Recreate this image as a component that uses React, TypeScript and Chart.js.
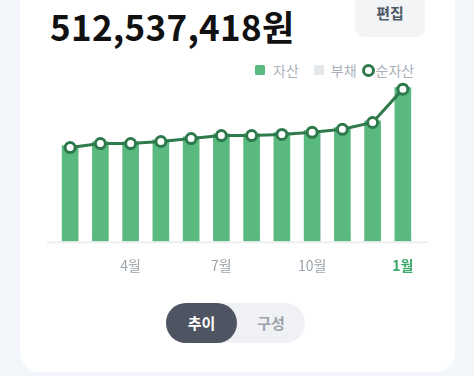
import React, { useEffect, useRef } from "react";
import { Chart, registerables } from "chart.js";

Chart.register(...registerables);

const months = ["2월", "3월", "4월", "5월", "6월", "7월", "8월", "9월", "10월", "11월", "12월", "1월"];
const shownTicks = ["4월", "7월", "10월", "1월"];
// 단위: 백만원
const assets = [322, 335, 335, 342, 352, 362, 362, 366, 373, 383, 406, 518];
const liabilities = [6, 6, 6, 6, 6, 6, 6, 6, 6, 6, 6, 6];
const netAssets = [315.6, 329, 329, 336, 346, 356, 356, 360, 367, 377, 400, 512.5];
const totalText = "512,537,418원";

const FONT = '"Noto Sans CJK KR", "Noto Sans", sans-serif';
const GREEN = "#5ab97e";
const DARK_GREEN = "#2e7a4d";
const LIGHT_GRAY = "#e5e8eb";

const baselinePlugin = {
  id: "baseline",
  beforeDatasetsDraw(chart: any) {
    const { ctx, chartArea } = chart;
    ctx.save();
    ctx.strokeStyle = "#eceef0";
    ctx.lineWidth = 2;
    ctx.beginPath();
    ctx.moveTo(chartArea.left - 8, chartArea.bottom + 1);
    ctx.lineTo(chartArea.right + 10, chartArea.bottom + 1);
    ctx.stroke();
    ctx.restore();
  },
};

function TrendChart() {
  const ref = useRef<HTMLCanvasElement | null>(null);
  useEffect(() => {
    if (!ref.current) return;
    const chart = new Chart(ref.current, {
      type: "bar",
      data: {
        labels: months,
        datasets: [
          {
            type: "line",
            label: "순자산",
            data: netAssets,
            borderColor: DARK_GREEN,
            borderWidth: 3,
            pointRadius: 5,
            pointBorderWidth: 3,
            pointBackgroundColor: "#ffffff",
            pointBorderColor: DARK_GREEN,
            tension: 0,
            order: 0,
          } as any,
          {
            type: "bar",
            label: "자산",
            data: assets,
            backgroundColor: GREEN,
            barThickness: 16,
            order: 1,
          },
          {
            type: "bar",
            label: "부채",
            data: liabilities,
            backgroundColor: LIGHT_GRAY,
            barThickness: 16,
            order: 2,
          },
        ],
      },
      options: {
        animation: false,
        responsive: true,
        maintainAspectRatio: false,
        layout: { padding: { left: 15, right: 22, top: 4, bottom: 6 } },
        plugins: { legend: { display: false }, tooltip: { enabled: false } },
        scales: {
          x: {
            stacked: true,
            grid: { display: false },
            border: { display: false },
            ticks: {
              autoSkip: false,
              maxRotation: 0,
              padding: 8,
              callback: (_v: any, i: number) => (shownTicks.includes(months[i]) ? months[i] : ""),
              color: (c: any) => (c.index === months.length - 1 ? "#3aa96a" : "#9ba3ab"),
              font: (c: any) => ({
                family: FONT,
                size: 14,
                weight: c.index === months.length - 1 ? "bold" : "normal",
              }),
            },
          },
          y: {
            display: false,
            stacked: false,
            min: 0,
            max: 550,
          },
        },
      },
      plugins: [baselinePlugin],
    });
    return () => chart.destroy();
  }, []);
  return (
    <div style={{ position: "absolute", left: 40, top: 70, width: 400, height: 218 }}>
      <canvas ref={ref} />
    </div>
  );
}

export default function App() {
  useEffect(() => {
    document.body.style.margin = "0";
  }, []);
  const legendText: React.CSSProperties = { fontSize: 14, color: "#aab1b9" };
  return (
    <div
      style={{
        position: "relative",
        width: 474,
        height: 376,
        overflow: "hidden",
        background: "#f3f6fa",
        fontFamily: FONT,
      }}
    >
      <div
        style={{
          position: "absolute",
          left: 20,
          top: -30,
          width: 435,
          height: 402,
          background: "#ffffff",
          borderRadius: 20,
        }}
      />
      <div
        style={{
          position: "absolute",
          left: 50,
          top: 2,
          fontSize: 35,
          fontWeight: 700,
          color: "#111111",
          letterSpacing: 0.3,
          lineHeight: "48px",
        }}
      >
        {totalText}
      </div>
      <div
        style={{
          position: "absolute",
          left: 355,
          top: -10,
          width: 70,
          height: 47,
          borderRadius: 9,
          background: "#f2f4f6",
          color: "#4e5968",
          fontWeight: 700,
          fontSize: 15,
          textAlign: "center",
          lineHeight: "46px",
        }}
      >
        편집
      </div>
      <div
        style={{
          position: "absolute",
          left: 255,
          top: 60,
          height: 20,
          display: "flex",
          alignItems: "center",
          whiteSpace: "nowrap",
        }}
      >
        <span style={{ width: 10, height: 10, background: GREEN, borderRadius: 1.5, display: "inline-block" }} />
        <span style={{ ...legendText, marginLeft: 8 }}>자산</span>
        <span
          style={{ width: 10, height: 10, background: LIGHT_GRAY, borderRadius: 1.5, display: "inline-block", marginLeft: 15 }}
        />
        <span style={{ ...legendText, marginLeft: 7 }}>부채</span>
        <span
          style={{
            width: 7,
            height: 7,
            border: `3px solid ${DARK_GREEN}`,
            borderRadius: "50%",
            background: "#fff",
            display: "inline-block",
            marginLeft: 5,
          }}
        />
        <span style={{ ...legendText, marginLeft: 1 }}>순자산</span>
      </div>
      <TrendChart />
      <div
        style={{
          position: "absolute",
          left: 166,
          top: 303,
          width: 139,
          height: 40,
          borderRadius: 20,
          background: "#eff1f4",
        }}
      >
        <div
          style={{
            position: "absolute",
            left: 0,
            top: 0,
            width: 71,
            height: 40,
            borderRadius: 20,
            background: "#4e5461",
            color: "#ffffff",
            fontWeight: 700,
            fontSize: 15,
            textAlign: "center",
            lineHeight: "40px",
          }}
        >
          추이
        </div>
        <div
          style={{
            position: "absolute",
            left: 71,
            top: 0,
            width: 68,
            height: 40,
            color: "#9ba3ab",
            fontWeight: 700,
            fontSize: 15,
            textAlign: "center",
            lineHeight: "40px",
          }}
        >
          구성
        </div>
      </div>
    </div>
  );
}
